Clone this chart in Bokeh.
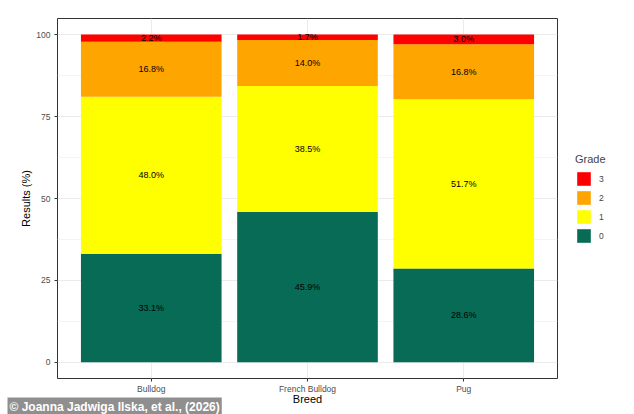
from bokeh.plotting import figure
from bokeh.models import (ColumnDataSource, Range1d, FixedTicker, Legend, LegendItem, Title)
from bokeh.core.properties import value
from bokeh.embed import file_html
from bokeh.resources import INLINE

# Grade distribution (%) for each breed
breeds = ["Bulldog", "French Bulldog", "Pug"]
grades = ["0", "1", "2", "3"]
grade0 = [33.1, 45.9, 28.6]
grade1 = [48.0, 38.5, 51.7]
grade2 = [16.8, 14.0, 16.8]
grade3 = [2.2, 1.7, 3.0]
grade_colors = ["#076b55", "#ffff00", "#ffa500", "#ff0000"]
y_ticks = [0, 25, 50, 75, 100]

FONT = "Liberation Sans"

xpos = [i + 1 for i in range(len(breeds))]
series = [grade0, grade1, grade2, grade3]
data = {"x": xpos}
for g, vals in zip(grades, series):
    data["g" + g] = vals
src = ColumnDataSource(data)

p = figure(frame_width=500, frame_height=360, output_backend="svg", toolbar_location=None,
           x_range=Range1d(0.4, 3.6), y_range=Range1d(-5, 105),
           min_border_left=57, min_border_right=77, min_border_top=18, min_border_bottom=36)
p.background_fill_color = "white"
p.border_fill_color = "white"
p.outline_line_color = "#333333"
p.outline_line_width = 1

bars = p.vbar_stack(["g" + g for g in grades], x="x", width=0.9, source=src,
                    color=grade_colors, line_color=None)

# segment labels at the middle of each stacked block
lx, ly, lt = [], [], []
for i in range(len(breeds)):
    base = 0.0
    for vals in series:
        v = vals[i]
        lx.append(xpos[i])
        ly.append(base + v / 2)
        lt.append(f"{v:.1f}%")
        base += v
p.text(x=lx, y=ly, text=lt, text_align="center", text_baseline="middle",
       text_font=value(FONT), text_font_size="9px", text_color="black")

# axes
p.xaxis.ticker = FixedTicker(ticks=xpos)
p.xaxis.major_label_overrides = {x: b for x, b in zip(xpos, breeds)}
p.yaxis.ticker = FixedTicker(ticks=y_ticks, minor_ticks=[12.5, 37.5, 62.5, 87.5])
for ax in (p.xaxis[0], p.yaxis[0]):
    ax.axis_line_color = None
    ax.major_tick_in = 0
    ax.major_tick_out = 3
    ax.major_tick_line_color = "#333333"
    ax.minor_tick_line_color = None
    ax.major_label_text_font = FONT
    ax.major_label_text_font_size = "8.5px"
    ax.major_label_text_color = "#4d4d4d"
    ax.axis_label_text_font = FONT
    ax.axis_label_text_font_size = "11px"
    ax.axis_label_text_font_style = "normal"
    ax.axis_label_text_color = "black"
p.xaxis.axis_label = "Breed"
p.yaxis.axis_label = "Results (%)"
p.xaxis.major_label_standoff = 2
p.yaxis.major_label_standoff = 3
p.xaxis.axis_label_standoff = -4
p.yaxis.axis_label_standoff = 1

p.xgrid.grid_line_color = "#ebebeb"
p.ygrid.grid_line_color = "#ebebeb"
p.ygrid.minor_grid_line_color = "#f4f4f4"
p.xgrid.grid_line_width = 1
p.ygrid.grid_line_width = 1

# legend: highest grade on top
items = [LegendItem(label=g, renderers=[r]) for g, r in zip(grades, bars)][::-1]
legend = Legend(items=items, location=(18, 134), title="Grade",
                title_text_font=FONT, title_text_font_size="11px",
                title_text_font_style="normal", title_standoff=5,
                label_text_font=FONT, label_text_font_size="8.5px",
                glyph_width=17, glyph_height=17, label_height=17, label_standoff=7,
                spacing=2, padding=0, margin=0,
                border_line_color=None, background_fill_alpha=0)
p.add_layout(legend, "right")

# credit line in the bottom-left corner
credit = Title(text="\u00a9 Joanna Jadwiga Ilska, et al., (2026)",
               align="left", vertical_align="top", offset=-50, standoff=-20,
               text_font=FONT, text_font_size="12px", text_font_style="bold",
               text_color="white", background_fill_color="#8f8f8f",
               padding=2)
p.add_layout(credit, "below")

open("out.html", "w").write(file_html(p, INLINE))
